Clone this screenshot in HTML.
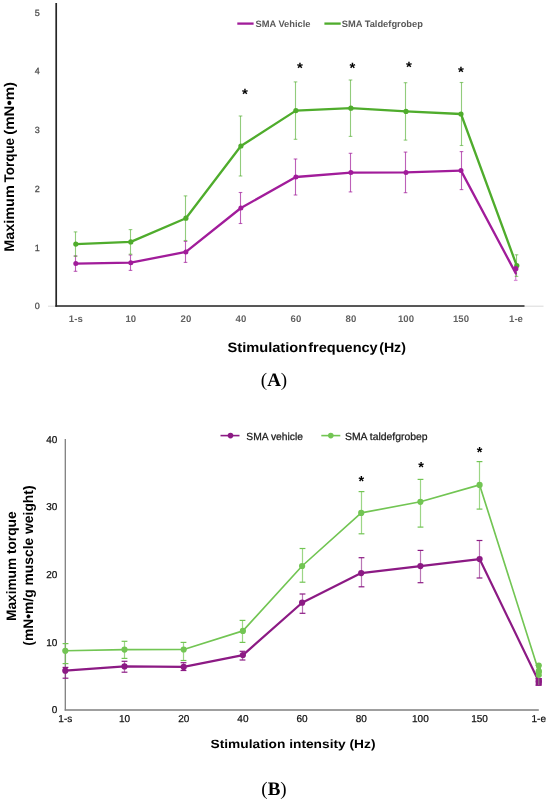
<!DOCTYPE html><html><head><meta charset="utf-8"><style>html,body{margin:0;padding:0;background:#fff;}svg{display:block;}text{font-family:"Liberation Sans",Arial,sans-serif;text-rendering:geometricPrecision;}</style></head><body>
<svg width="550" height="802" viewBox="0 0 550 802">
<rect width="550" height="802" fill="#fff"/>
<line x1="48" y1="306.2" x2="543.5" y2="306.2" stroke="#d9d9d9" stroke-width="1"/>
<line x1="56.2" y1="3" x2="56.2" y2="306.8" stroke="#262626" stroke-width="1.7"/>
<line x1="55.4" y1="306" x2="524.5" y2="306" stroke="#262626" stroke-width="1.7"/>
<text x="39.8" y="309.2" font-size="9" fill="#4a4a4a" stroke="#4a4a4a" stroke-width="0.25" text-anchor="end">0</text>
<text x="39.8" y="250.5" font-size="9" fill="#4a4a4a" stroke="#4a4a4a" stroke-width="0.25" text-anchor="end">1</text>
<text x="39.8" y="191.8" font-size="9" fill="#4a4a4a" stroke="#4a4a4a" stroke-width="0.25" text-anchor="end">2</text>
<text x="39.8" y="133.1" font-size="9" fill="#4a4a4a" stroke="#4a4a4a" stroke-width="0.25" text-anchor="end">3</text>
<text x="39.8" y="74.4" font-size="9" fill="#4a4a4a" stroke="#4a4a4a" stroke-width="0.25" text-anchor="end">4</text>
<text x="39.8" y="15.6" font-size="9" fill="#4a4a4a" stroke="#4a4a4a" stroke-width="0.25" text-anchor="end">5</text>
<text x="75.8" y="322.4" font-size="9.6" font-weight="bold" fill="#626262" text-anchor="middle">1-s</text>
<text x="130.8" y="322.4" font-size="9.6" font-weight="bold" fill="#626262" text-anchor="middle">10</text>
<text x="185.9" y="322.4" font-size="9.6" font-weight="bold" fill="#626262" text-anchor="middle">20</text>
<text x="240.9" y="322.4" font-size="9.6" font-weight="bold" fill="#626262" text-anchor="middle">40</text>
<text x="295.9" y="322.4" font-size="9.6" font-weight="bold" fill="#626262" text-anchor="middle">60</text>
<text x="350.9" y="322.4" font-size="9.6" font-weight="bold" fill="#626262" text-anchor="middle">80</text>
<text x="406.0" y="322.4" font-size="9.6" font-weight="bold" fill="#626262" text-anchor="middle">100</text>
<text x="461.0" y="322.4" font-size="9.6" font-weight="bold" fill="#626262" text-anchor="middle">150</text>
<text x="516.0" y="322.4" font-size="9.6" font-weight="bold" fill="#626262" text-anchor="middle">1-e</text>
<g stroke="#a11c9a" stroke-width="1.1" stroke-opacity="0.7"><line x1="75.5" y1="255.9" x2="75.5" y2="271.3"/><line x1="73.7" y1="255.9" x2="77.3" y2="255.9"/><line x1="73.7" y1="271.3" x2="77.3" y2="271.3"/></g>
<g stroke="#a11c9a" stroke-width="1.1" stroke-opacity="0.7"><line x1="130.5" y1="255.0" x2="130.5" y2="270.4"/><line x1="128.7" y1="255.0" x2="132.3" y2="255.0"/><line x1="128.7" y1="270.4" x2="132.3" y2="270.4"/></g>
<g stroke="#a11c9a" stroke-width="1.1" stroke-opacity="0.7"><line x1="185.5" y1="241.4" x2="185.5" y2="262.4"/><line x1="183.7" y1="241.4" x2="187.3" y2="241.4"/><line x1="183.7" y1="262.4" x2="187.3" y2="262.4"/></g>
<g stroke="#a11c9a" stroke-width="1.1" stroke-opacity="0.7"><line x1="240.5" y1="192.5" x2="240.5" y2="223.5"/><line x1="238.7" y1="192.5" x2="242.3" y2="192.5"/><line x1="238.7" y1="223.5" x2="242.3" y2="223.5"/></g>
<g stroke="#a11c9a" stroke-width="1.1" stroke-opacity="0.7"><line x1="295.5" y1="159.0" x2="295.5" y2="195.0"/><line x1="293.7" y1="159.0" x2="297.3" y2="159.0"/><line x1="293.7" y1="195.0" x2="297.3" y2="195.0"/></g>
<g stroke="#a11c9a" stroke-width="1.1" stroke-opacity="0.7"><line x1="350.5" y1="153.3" x2="350.5" y2="191.9"/><line x1="348.7" y1="153.3" x2="352.3" y2="153.3"/><line x1="348.7" y1="191.9" x2="352.3" y2="191.9"/></g>
<g stroke="#a11c9a" stroke-width="1.1" stroke-opacity="0.7"><line x1="405.5" y1="152.1" x2="405.5" y2="192.7"/><line x1="403.7" y1="152.1" x2="407.3" y2="152.1"/><line x1="403.7" y1="192.7" x2="407.3" y2="192.7"/></g>
<g stroke="#a11c9a" stroke-width="1.1" stroke-opacity="0.7"><line x1="461.5" y1="151.6" x2="461.5" y2="189.6"/><line x1="459.7" y1="151.6" x2="463.3" y2="151.6"/><line x1="459.7" y1="189.6" x2="463.3" y2="189.6"/></g>
<line x1="515.7" y1="268.7" x2="515.7" y2="280.4" stroke="#d88fd6" stroke-width="1.3"/><line x1="513.9" y1="280.4" x2="517.5" y2="280.4" stroke="#d88fd6" stroke-width="1.3"/>
<g stroke="#4fac2c" stroke-width="1.1" stroke-opacity="0.62"><line x1="75.5" y1="231.9" x2="75.5" y2="256.3"/><line x1="73.7" y1="231.9" x2="77.3" y2="231.9"/><line x1="73.7" y1="256.3" x2="77.3" y2="256.3"/></g>
<g stroke="#4fac2c" stroke-width="1.1" stroke-opacity="0.62"><line x1="130.5" y1="229.6" x2="130.5" y2="254.2"/><line x1="128.7" y1="229.6" x2="132.3" y2="229.6"/><line x1="128.7" y1="254.2" x2="132.3" y2="254.2"/></g>
<g stroke="#4fac2c" stroke-width="1.1" stroke-opacity="0.62"><line x1="185.5" y1="195.9" x2="185.5" y2="240.5"/><line x1="183.7" y1="195.9" x2="187.3" y2="195.9"/><line x1="183.7" y1="240.5" x2="187.3" y2="240.5"/></g>
<g stroke="#4fac2c" stroke-width="1.1" stroke-opacity="0.62"><line x1="240.5" y1="116.0" x2="240.5" y2="176.0"/><line x1="238.7" y1="116.0" x2="242.3" y2="116.0"/><line x1="238.7" y1="176.0" x2="242.3" y2="176.0"/></g>
<g stroke="#4fac2c" stroke-width="1.1" stroke-opacity="0.62"><line x1="295.5" y1="81.9" x2="295.5" y2="139.3"/><line x1="293.7" y1="81.9" x2="297.3" y2="81.9"/><line x1="293.7" y1="139.3" x2="297.3" y2="139.3"/></g>
<g stroke="#4fac2c" stroke-width="1.1" stroke-opacity="0.62"><line x1="350.5" y1="80.0" x2="350.5" y2="136.4"/><line x1="348.7" y1="80.0" x2="352.3" y2="80.0"/><line x1="348.7" y1="136.4" x2="352.3" y2="136.4"/></g>
<g stroke="#4fac2c" stroke-width="1.1" stroke-opacity="0.62"><line x1="405.5" y1="82.7" x2="405.5" y2="140.1"/><line x1="403.7" y1="82.7" x2="407.3" y2="82.7"/><line x1="403.7" y1="140.1" x2="407.3" y2="140.1"/></g>
<g stroke="#4fac2c" stroke-width="1.1" stroke-opacity="0.62"><line x1="461.5" y1="82.5" x2="461.5" y2="145.5"/><line x1="459.7" y1="82.5" x2="463.3" y2="82.5"/><line x1="459.7" y1="145.5" x2="463.3" y2="145.5"/></g>
<g stroke="#4fac2c" stroke-width="1.1" stroke-opacity="0.62"><line x1="516.5" y1="254.8" x2="516.5" y2="276.4"/><line x1="514.7" y1="254.8" x2="518.3" y2="254.8"/><line x1="514.7" y1="276.4" x2="518.3" y2="276.4"/></g>
<polyline points="75.8,263.6 130.8,262.7 185.9,251.9 240.9,208.0 295.9,177.0 350.9,172.6 406.0,172.4 461.0,170.6" fill="none" stroke="#a11c9a" stroke-width="2.3" stroke-linejoin="round"/>
<polyline points="75.8,244.1 130.8,241.9 185.9,218.2 240.9,146.0 295.9,110.6 350.9,108.2 406.0,111.4 461.0,114.0 516.7,265.6" fill="none" stroke="#4fac2c" stroke-width="2.3" stroke-linejoin="round"/>
<circle cx="75.8" cy="263.6" r="2.5" fill="#a11c9a"/>
<circle cx="130.8" cy="262.7" r="2.5" fill="#a11c9a"/>
<circle cx="185.9" cy="251.9" r="2.5" fill="#a11c9a"/>
<circle cx="240.9" cy="208.0" r="2.5" fill="#a11c9a"/>
<circle cx="295.9" cy="177.0" r="2.5" fill="#a11c9a"/>
<circle cx="350.9" cy="172.6" r="2.5" fill="#a11c9a"/>
<circle cx="406.0" cy="172.4" r="2.5" fill="#a11c9a"/>
<circle cx="461.0" cy="170.6" r="2.5" fill="#a11c9a"/>
<circle cx="75.8" cy="244.1" r="2.6" fill="#4fac2c"/>
<circle cx="130.8" cy="241.9" r="2.6" fill="#4fac2c"/>
<circle cx="185.9" cy="218.2" r="2.6" fill="#4fac2c"/>
<circle cx="240.9" cy="146.0" r="2.6" fill="#4fac2c"/>
<circle cx="295.9" cy="110.6" r="2.6" fill="#4fac2c"/>
<circle cx="350.9" cy="108.2" r="2.6" fill="#4fac2c"/>
<circle cx="406.0" cy="111.4" r="2.6" fill="#4fac2c"/>
<circle cx="461.0" cy="114.0" r="2.6" fill="#4fac2c"/>
<circle cx="516.8" cy="265.6" r="2.6" fill="#4fac2c"/>
<line x1="461.0" y1="170.6" x2="515.8" y2="273.4" stroke="#a11c9a" stroke-width="2.3" stroke-linecap="round"/>
<circle cx="515.7" cy="268.7" r="2.7" fill="#a11c9a"/>
<text x="245.0" y="98.7" font-size="15" font-weight="bold" fill="#000" text-anchor="middle">*</text>
<text x="300.0" y="72.7" font-size="15" font-weight="bold" fill="#000" text-anchor="middle">*</text>
<text x="352.5" y="72.7" font-size="15" font-weight="bold" fill="#000" text-anchor="middle">*</text>
<text x="409.0" y="71.6" font-size="15" font-weight="bold" fill="#000" text-anchor="middle">*</text>
<text x="461.0" y="77.4" font-size="15" font-weight="bold" fill="#000" text-anchor="middle">*</text>
<line x1="237.3" y1="23.6" x2="253.6" y2="23.6" stroke="#a11c9a" stroke-width="2.3"/>
<text x="255.5" y="26.7" font-size="9.3" font-weight="bold" fill="#595959">SMA Vehicle</text>
<line x1="324.4" y1="23.6" x2="340.7" y2="23.6" stroke="#4fac2c" stroke-width="2.3"/>
<text x="341.8" y="26.7" font-size="9.3" font-weight="bold" fill="#595959">SMA Taldefgrobep</text>
<text x="227.5" y="351.7" font-size="13.6" font-weight="bold" fill="#000" textLength="79.7" lengthAdjust="spacingAndGlyphs">Stimulation</text>
<text x="308.2" y="351.7" font-size="13.6" font-weight="bold" fill="#000" textLength="69.5" lengthAdjust="spacingAndGlyphs">frequency</text>
<text x="379.2" y="351.7" font-size="13.6" font-weight="bold" fill="#000" textLength="26.7" lengthAdjust="spacingAndGlyphs">(Hz)</text>
<text transform="translate(14.4,251) rotate(-90)" x="-0.8" y="0" font-size="14" font-weight="bold" fill="#000" textLength="66.5" lengthAdjust="spacingAndGlyphs">Maximum</text>
<text transform="translate(14.4,251) rotate(-90)" x="68.5" y="0" font-size="14" font-weight="bold" fill="#000" textLength="44.6" lengthAdjust="spacingAndGlyphs">Torque</text>
<text transform="translate(14.4,251) rotate(-90)" x="116.2" y="0" font-size="14" font-weight="bold" fill="#000" textLength="52.9" lengthAdjust="spacingAndGlyphs">(mN•m)</text>
<text x="274" y="385.5" font-size="19" fill="#000" text-anchor="middle" style="font-family:'Liberation Serif',serif">(<tspan font-weight="bold">A</tspan>)</text>
<line x1="65.3" y1="439" x2="65.3" y2="710.6" stroke="#7f7f7f" stroke-width="1.3"/>
<line x1="64.7" y1="710" x2="538.8" y2="710" stroke="#7f7f7f" stroke-width="1.3"/>
<text x="57.3" y="713.4" font-size="10" fill="#111" stroke="#111" stroke-width="0.25" text-anchor="end">0</text>
<text x="57.3" y="645.7" font-size="10" fill="#111" stroke="#111" stroke-width="0.25" text-anchor="end">10</text>
<text x="57.3" y="578.1" font-size="10" fill="#111" stroke="#111" stroke-width="0.25" text-anchor="end">20</text>
<text x="57.3" y="510.4" font-size="10" fill="#111" stroke="#111" stroke-width="0.25" text-anchor="end">30</text>
<text x="57.3" y="442.7" font-size="10" fill="#111" stroke="#111" stroke-width="0.25" text-anchor="end">40</text>
<text x="65.3" y="722.4" font-size="10" fill="#111" stroke="#111" stroke-width="0.25" text-anchor="middle">1-s</text>
<text x="124.5" y="722.4" font-size="10" fill="#111" stroke="#111" stroke-width="0.25" text-anchor="middle">10</text>
<text x="183.7" y="722.4" font-size="10" fill="#111" stroke="#111" stroke-width="0.25" text-anchor="middle">20</text>
<text x="242.9" y="722.4" font-size="10" fill="#111" stroke="#111" stroke-width="0.25" text-anchor="middle">40</text>
<text x="302.1" y="722.4" font-size="10" fill="#111" stroke="#111" stroke-width="0.25" text-anchor="middle">60</text>
<text x="361.2" y="722.4" font-size="10" fill="#111" stroke="#111" stroke-width="0.25" text-anchor="middle">80</text>
<text x="420.4" y="722.4" font-size="10" fill="#111" stroke="#111" stroke-width="0.25" text-anchor="middle">100</text>
<text x="479.6" y="722.4" font-size="10" fill="#111" stroke="#111" stroke-width="0.25" text-anchor="middle">150</text>
<text x="538.8" y="722.4" font-size="10" fill="#111" stroke="#111" stroke-width="0.25" text-anchor="middle">1-e</text>
<line x1="65.5" y1="667.4" x2="65.5" y2="678.2" stroke="#8c1a84" stroke-width="1.2" stroke-opacity="0.6"/><line x1="62.6" y1="667.4" x2="68.4" y2="667.4" stroke="#8c1a84" stroke-width="1.2"/><line x1="62.6" y1="678.2" x2="68.4" y2="678.2" stroke="#8c1a84" stroke-width="1.2"/>
<line x1="124.5" y1="661.3" x2="124.5" y2="672.2" stroke="#8c1a84" stroke-width="1.2" stroke-opacity="0.6"/><line x1="121.6" y1="661.3" x2="127.4" y2="661.3" stroke="#8c1a84" stroke-width="1.2"/><line x1="121.6" y1="672.2" x2="127.4" y2="672.2" stroke="#8c1a84" stroke-width="1.2"/>
<line x1="183.5" y1="662.7" x2="183.5" y2="670.5" stroke="#8c1a84" stroke-width="1.2" stroke-opacity="0.6"/><line x1="180.6" y1="662.7" x2="186.4" y2="662.7" stroke="#8c1a84" stroke-width="1.2"/><line x1="180.6" y1="670.5" x2="186.4" y2="670.5" stroke="#8c1a84" stroke-width="1.2"/>
<line x1="242.5" y1="651.3" x2="242.5" y2="660.0" stroke="#8c1a84" stroke-width="1.2" stroke-opacity="0.6"/><line x1="239.6" y1="651.3" x2="245.4" y2="651.3" stroke="#8c1a84" stroke-width="1.2"/><line x1="239.6" y1="660.0" x2="245.4" y2="660.0" stroke="#8c1a84" stroke-width="1.2"/>
<line x1="302.5" y1="594.0" x2="302.5" y2="613.3" stroke="#8c1a84" stroke-width="1.2" stroke-opacity="0.6"/><line x1="299.6" y1="594.0" x2="305.4" y2="594.0" stroke="#8c1a84" stroke-width="1.2"/><line x1="299.6" y1="613.3" x2="305.4" y2="613.3" stroke="#8c1a84" stroke-width="1.2"/>
<line x1="361.5" y1="557.7" x2="361.5" y2="586.8" stroke="#8c1a84" stroke-width="1.2" stroke-opacity="0.6"/><line x1="358.6" y1="557.7" x2="364.4" y2="557.7" stroke="#8c1a84" stroke-width="1.2"/><line x1="358.6" y1="586.8" x2="364.4" y2="586.8" stroke="#8c1a84" stroke-width="1.2"/>
<line x1="420.5" y1="550.4" x2="420.5" y2="582.7" stroke="#8c1a84" stroke-width="1.2" stroke-opacity="0.6"/><line x1="417.6" y1="550.4" x2="423.4" y2="550.4" stroke="#8c1a84" stroke-width="1.2"/><line x1="417.6" y1="582.7" x2="423.4" y2="582.7" stroke="#8c1a84" stroke-width="1.2"/>
<line x1="479.5" y1="540.5" x2="479.5" y2="578.0" stroke="#8c1a84" stroke-width="1.2" stroke-opacity="0.6"/><line x1="476.6" y1="540.5" x2="482.4" y2="540.5" stroke="#8c1a84" stroke-width="1.2"/><line x1="476.6" y1="578.0" x2="482.4" y2="578.0" stroke="#8c1a84" stroke-width="1.2"/>
<line x1="538.5" y1="678.6" x2="538.5" y2="685.2" stroke="#8c1a84" stroke-width="1.2" stroke-opacity="0.6"/><line x1="535.6" y1="678.6" x2="541.4" y2="678.6" stroke="#8c1a84" stroke-width="1.2"/><line x1="535.6" y1="685.2" x2="541.4" y2="685.2" stroke="#8c1a84" stroke-width="1.2"/>
<line x1="65.5" y1="643.6" x2="65.5" y2="663.6" stroke="#72c553" stroke-width="1.2" stroke-opacity="0.7"/><line x1="62.6" y1="643.6" x2="68.4" y2="643.6" stroke="#72c553" stroke-width="1.2"/><line x1="62.6" y1="663.6" x2="68.4" y2="663.6" stroke="#72c553" stroke-width="1.2"/>
<line x1="124.5" y1="641.3" x2="124.5" y2="658.4" stroke="#72c553" stroke-width="1.2" stroke-opacity="0.7"/><line x1="121.6" y1="641.3" x2="127.4" y2="641.3" stroke="#72c553" stroke-width="1.2"/><line x1="121.6" y1="658.4" x2="127.4" y2="658.4" stroke="#72c553" stroke-width="1.2"/>
<line x1="183.5" y1="642.4" x2="183.5" y2="660.5" stroke="#72c553" stroke-width="1.2" stroke-opacity="0.7"/><line x1="180.6" y1="642.4" x2="186.4" y2="642.4" stroke="#72c553" stroke-width="1.2"/><line x1="180.6" y1="660.5" x2="186.4" y2="660.5" stroke="#72c553" stroke-width="1.2"/>
<line x1="242.5" y1="620.4" x2="242.5" y2="642.4" stroke="#72c553" stroke-width="1.2" stroke-opacity="0.7"/><line x1="239.6" y1="620.4" x2="245.4" y2="620.4" stroke="#72c553" stroke-width="1.2"/><line x1="239.6" y1="642.4" x2="245.4" y2="642.4" stroke="#72c553" stroke-width="1.2"/>
<line x1="302.5" y1="548.5" x2="302.5" y2="582.2" stroke="#72c553" stroke-width="1.2" stroke-opacity="0.7"/><line x1="299.6" y1="548.5" x2="305.4" y2="548.5" stroke="#72c553" stroke-width="1.2"/><line x1="299.6" y1="582.2" x2="305.4" y2="582.2" stroke="#72c553" stroke-width="1.2"/>
<line x1="361.5" y1="491.6" x2="361.5" y2="533.8" stroke="#72c553" stroke-width="1.2" stroke-opacity="0.7"/><line x1="358.6" y1="491.6" x2="364.4" y2="491.6" stroke="#72c553" stroke-width="1.2"/><line x1="358.6" y1="533.8" x2="364.4" y2="533.8" stroke="#72c553" stroke-width="1.2"/>
<line x1="420.5" y1="479.4" x2="420.5" y2="527.1" stroke="#72c553" stroke-width="1.2" stroke-opacity="0.7"/><line x1="417.6" y1="479.4" x2="423.4" y2="479.4" stroke="#72c553" stroke-width="1.2"/><line x1="417.6" y1="527.1" x2="423.4" y2="527.1" stroke="#72c553" stroke-width="1.2"/>
<line x1="479.5" y1="461.6" x2="479.5" y2="509.1" stroke="#72c553" stroke-width="1.2" stroke-opacity="0.7"/><line x1="476.6" y1="461.6" x2="482.4" y2="461.6" stroke="#72c553" stroke-width="1.2"/><line x1="476.6" y1="509.1" x2="482.4" y2="509.1" stroke="#72c553" stroke-width="1.2"/>
<line x1="538.5" y1="665.4" x2="538.5" y2="675.5" stroke="#72c553" stroke-width="1.2" stroke-opacity="0.7"/><line x1="535.6" y1="665.4" x2="541.4" y2="665.4" stroke="#72c553" stroke-width="1.2"/><line x1="535.6" y1="675.5" x2="541.4" y2="675.5" stroke="#72c553" stroke-width="1.2"/>
<polyline points="65.3,670.7 124.5,666.4 183.7,666.9 242.9,655.1 302.1,602.7 361.2,573.1 420.4,566.1 479.6,559.1 538.8,681.5" fill="none" stroke="#8c1a84" stroke-width="2.2" stroke-linejoin="round"/>
<polyline points="65.3,650.8 124.5,649.6 183.7,649.5 242.9,630.9 302.1,566.0 361.2,512.9 420.4,501.8 479.6,484.9 538.8,671.4" fill="none" stroke="#72c553" stroke-width="1.65" stroke-linejoin="round"/>
<circle cx="65.3" cy="670.7" r="3.1" fill="#8c1a84"/>
<circle cx="124.5" cy="666.4" r="3.1" fill="#8c1a84"/>
<circle cx="183.7" cy="666.9" r="3.1" fill="#8c1a84"/>
<circle cx="242.9" cy="655.1" r="3.1" fill="#8c1a84"/>
<circle cx="302.1" cy="602.7" r="3.1" fill="#8c1a84"/>
<circle cx="361.2" cy="573.1" r="3.1" fill="#8c1a84"/>
<circle cx="420.4" cy="566.1" r="3.1" fill="#8c1a84"/>
<circle cx="479.6" cy="559.1" r="3.1" fill="#8c1a84"/>
<circle cx="538.8" cy="681.5" r="3.1" fill="#8c1a84"/>
<circle cx="65.3" cy="650.8" r="3.1" fill="#72c553"/>
<circle cx="124.5" cy="649.6" r="3.1" fill="#72c553"/>
<circle cx="183.7" cy="649.5" r="3.1" fill="#72c553"/>
<circle cx="242.9" cy="630.9" r="3.1" fill="#72c553"/>
<circle cx="302.1" cy="566.0" r="3.1" fill="#72c553"/>
<circle cx="361.2" cy="512.9" r="3.1" fill="#72c553"/>
<circle cx="420.4" cy="501.8" r="3.1" fill="#72c553"/>
<circle cx="479.6" cy="484.9" r="3.1" fill="#72c553"/>
<circle cx="538.8" cy="671.4" r="3.1" fill="#72c553"/>
<rect x="535.7" y="678" width="6.1" height="7.6" fill="#8c1a84"/>
<line x1="538.8" y1="678" x2="538.8" y2="685" stroke="#9fd98a" stroke-width="0.8" opacity="0.7"/>
<circle cx="538.8" cy="665.4" r="3" fill="#72c553"/>
<circle cx="538.8" cy="671.4" r="3" fill="#72c553"/>
<circle cx="538.8" cy="675.0" r="3" fill="#72c553"/>
<rect x="536.6" y="665.4" width="4.4" height="10" fill="#72c553"/>
<text x="361.4" y="485.9" font-size="14.5" font-weight="bold" fill="#000" text-anchor="middle">*</text>
<text x="421.0" y="471.5" font-size="14.5" font-weight="bold" fill="#000" text-anchor="middle">*</text>
<text x="479.7" y="456.7" font-size="14.5" font-weight="bold" fill="#000" text-anchor="middle">*</text>
<line x1="220.5" y1="435.6" x2="239.5" y2="435.6" stroke="#8c1a84" stroke-width="1.6"/><circle cx="230.5" cy="435.6" r="2.8" fill="#8c1a84"/>
<text x="246.3" y="439.7" font-size="10.3" fill="#1a1a1a" stroke="#1a1a1a" stroke-width="0.25">SMA vehicle</text>
<line x1="321.3" y1="435.6" x2="340.3" y2="435.6" stroke="#72c553" stroke-width="1.6"/><circle cx="330.8" cy="435.6" r="2.8" fill="#72c553"/>
<text x="345" y="439.7" font-size="10.4" fill="#1a1a1a" stroke="#1a1a1a" stroke-width="0.25">SMA taldefgrobep</text>
<text x="210.5" y="747.7" font-size="12" font-weight="bold" fill="#000" textLength="165" lengthAdjust="spacingAndGlyphs">Stimulation intensity (Hz)</text>
<text transform="translate(16.1,621) rotate(-90)" font-size="13.7" font-weight="bold" fill="#000">Maximum torque</text>
<text transform="translate(32.9,645.7) rotate(-90)" font-size="13.85" font-weight="bold" fill="#000">(mN•m/g muscle weight)</text>
<text x="274" y="794.5" font-size="19" fill="#000" text-anchor="middle" style="font-family:'Liberation Serif',serif">(<tspan font-weight="bold">B</tspan>)</text>
</svg></body></html>
